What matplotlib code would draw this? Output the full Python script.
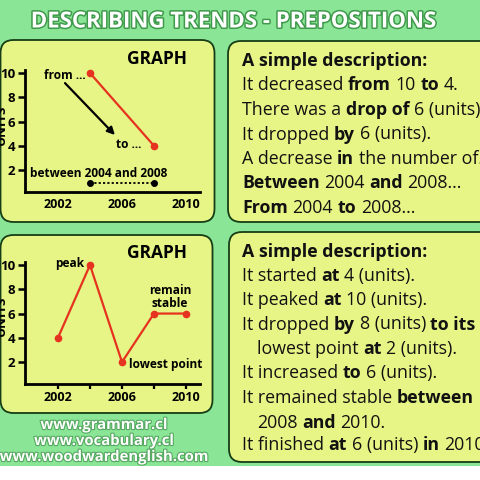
import matplotlib
matplotlib.use('Agg')
import matplotlib.pyplot as plt
from matplotlib.patches import FancyBboxPatch, Rectangle
import matplotlib.patheffects as pe

# ---------------- data ----------------
years_a = [2004, 2008]
units_a = [10, 4]
years_b = [2002, 2004, 2006, 2008, 2010]
units_b = [4, 10, 2, 6, 6]
ytick_vals = [2, 4, 6, 8, 10]
xtick_labels = [2002, 2006, 2010]
xtick_minor = [2004, 2008]

title = "DESCRIBING TRENDS - PREPOSITIONS"
footer = ["www.grammar.cl", "www.vocabulary.cl", "www.woodwardenglish.com"]

desc_top = [
    [("A simple description:", 1)],
    [("It decreased ", 0), ("from", 1), (" 10 ", 0), ("to", 1), (" 4.", 0)],
    [("There was a ", 0), ("drop of", 1), (" 6 (units).", 0)],
    [("It dropped ", 0), ("by", 1), (" 6 (units).", 0)],
    [("A decrease ", 0), ("in", 1), (" the number of...", 0)],
    [("Between", 1), (" 2004 ", 0), ("and", 1), (" 2008...", 0)],
    [("From", 1), (" 2004 ", 0), ("to", 1), (" 2008...", 0)],
]
desc_bot = [
    [("A simple description:", 1)],
    [("It started ", 0), ("at", 1), (" 4 (units).", 0)],
    [("It peaked ", 0), ("at", 1), (" 10 (units).", 0)],
    [("It dropped ", 0), ("by", 1), (" 8 (units) ", 0), ("to its", 1)],
    [("lowest point ", 0), ("at", 1), (" 2 (units).", 0)],
    [("It increased ", 0), ("to", 1), (" 6 (units).", 0)],
    [("It remained stable ", 0), ("between", 1)],
    [("2008 ", 0), ("and", 1), (" 2010.", 0)],
    [("It finished ", 0), ("at", 1), (" 6 (units) ", 0), ("in", 1), (" 2010.", 0)],
]
indent_bot = [0, 0, 0, 0, 1, 0, 0, 1, 0]

# ---------------- style ----------------
FONT = ['Open Sans', 'DejaVu Sans']
GREEN = '#8ae596'
PANEL = '#e6f585'
EDGE = '#163d16'
RED = '#e5331f'

fig = plt.figure(figsize=(4.8, 4.8), dpi=100)
fig.patch.set_facecolor('white')
bg = fig.add_axes([0, 0, 1, 1])
bg.set_xlim(0, 480)
bg.set_ylim(480, 0)
bg.axis('off')

bg.add_patch(Rectangle((0, 0), 480, 466, facecolor=GREEN, edgecolor='none'))
for (x, y, w, h) in [(0.5, 40, 214, 182), (228, 41, 275, 181),
                     (0.5, 235, 212, 178), (229, 232, 275, 230)]:
    bg.add_patch(FancyBboxPatch((x, y), w, h,
                                boxstyle="round,pad=0,rounding_size=13",
                                facecolor=PANEL, edgecolor=EDGE, lw=1.3))

# title
bg.text(234, 22, title, ha='center', va='center', fontsize=16,
        fontweight='bold', color='white', family=FONT,
        path_effects=[pe.withStroke(linewidth=2.2, foreground='#3f9a4c')])

# footer
for s, yy in zip(footer, [425, 441, 457]):
    bg.text(104, yy, s, ha='center', va='center', fontsize=10.7,
            fontweight='bold', color='white', family=FONT,
            path_effects=[pe.withStroke(linewidth=1.6, foreground='#55a860')])

# GRAPH labels
for yy in [59, 253]:
    bg.text(157, yy, 'GRAPH', ha='center', va='center', fontsize=12.5,
            fontweight='bold', color='black', family=FONT)
# UNITS
for yy in [125, 316]:
    bg.text(1.5, yy, 'UNITS', ha='center', va='center', rotation=90,
            fontsize=9.5, fontweight='bold', color='black', family=FONT)

# rich text
R = fig.canvas.get_renderer()
TSIZE = 12.8


def width(txt, bold):
    t = bg.text(0, 0, txt, fontsize=TSIZE, fontweight='bold' if bold else 'normal',
                family=FONT)
    w = t.get_window_extent(renderer=R).width
    t.remove()
    return w


def adv(s, bold):
    return width('|' + s + '|', bold) - width('||', bold)


def rich(x, y, parts):
    for s, b in parts:
        lead = len(s) - len(s.lstrip(' '))
        xo = adv(' ' * lead, b) if lead else 0
        bg.text(x + xo, y, s.strip(' '), fontsize=TSIZE,
                fontweight='bold' if b else 'normal', family=FONT,
                ha='left', va='baseline', color='#111111')
        x += adv(s, b)


for parts, yy in zip(desc_top, [66, 90.5, 115, 139.5, 164, 188.5, 213]):
    rich(242, yy, parts)
for parts, ind, yy in zip(desc_bot, indent_bot,
                          [257, 281, 305, 329.5, 354, 378, 403, 427.5, 450]):
    rich(257 if ind else 242, yy, parts)


# ---------------- charts ----------------
def setup(ax, with_xticks):
    ax.set_xlim(1999.94, 2010.875)
    ax.set_ylim(0.19, 10.25)
    ax.patch.set_alpha(0)
    for s in ['top', 'right']:
        ax.spines[s].set_visible(False)
    for s in ['left', 'bottom']:
        ax.spines[s].set_linewidth(2.0)
        ax.spines[s].set_color('black')
        ax.spines[s].set_capstyle('projecting')
    ax.set_yticks(ytick_vals)
    ax.set_yticklabels([str(v) for v in ytick_vals], fontweight='bold',
                       fontsize=9.5, family=FONT)
    ax.tick_params(axis='y', length=5, width=1.8, pad=2)
    ax.set_xticks(xtick_labels)
    ax.set_xticklabels([str(v) for v in xtick_labels], fontweight='bold',
                       fontsize=9, family=FONT)
    ax.set_xticks(xtick_minor, minor=True)
    if with_xticks:
        ax.tick_params(axis='x', which='both', length=3.5, width=1.6, pad=1.5)
    else:
        ax.tick_params(axis='x', which='both', length=0, pad=4)


ANN = 8.6
ax1 = fig.add_axes([25 / 480, 1 - 192 / 480, 175 / 480, 122 / 480])
setup(ax1, False)
ax1.plot(years_a, units_a, color=RED, lw=1.6, marker='o', ms=4.5,
         mfc=RED, mec=RED, solid_capstyle='round', clip_on=False)
ax1.annotate('', xy=(2005.56, 4.89), xytext=(2002.44, 9.17),
             arrowprops=dict(arrowstyle='-|>', color='black', lw=1.6,
                             mutation_scale=11, shrinkA=0, shrinkB=0))
ax1.text(2001.12, 9.8, 'from ...', fontsize=ANN, fontweight='bold',
         va='center', ha='left', family=FONT)
ax1.text(2005.62, 4.14, 'to ...', fontsize=ANN, fontweight='bold',
         va='center', ha='left', family=FONT)
ax1.text(2000.25, 1.75, 'between 2004 and 2008', fontsize=ANN, fontweight='bold',
         va='center', ha='left', family=FONT)
ax1.plot(years_a, [0.93, 0.93], color='black', lw=1.3, ls=(0, (1.2, 1.2)))
ax1.plot(years_a, [0.93, 0.93], ls='none', marker='o', ms=4, color='black')

ax2 = fig.add_axes([25 / 480, 1 - 384 / 480, 175 / 480, 122 / 480])
setup(ax2, True)
ax2.plot(years_b, units_b, color=RED, lw=1.6, marker='o', ms=4.5,
         mfc=RED, mec=RED, solid_joinstyle='miter', clip_on=False)
ax2.text(2003.65, 10.16, 'peak', fontsize=ANN, fontweight='bold',
         va='center', ha='right', family=FONT)
ax2.text(2009.0, 7.35, 'remain\nstable', fontsize=ANN, fontweight='bold',
         va='center', ha='center', family=FONT, linespacing=1.05)
ax2.text(2006.45, 1.83, 'lowest point', fontsize=ANN, fontweight='bold',
         va='center', ha='left', family=FONT)

fig.savefig('out.png', dpi=100, facecolor='white')
